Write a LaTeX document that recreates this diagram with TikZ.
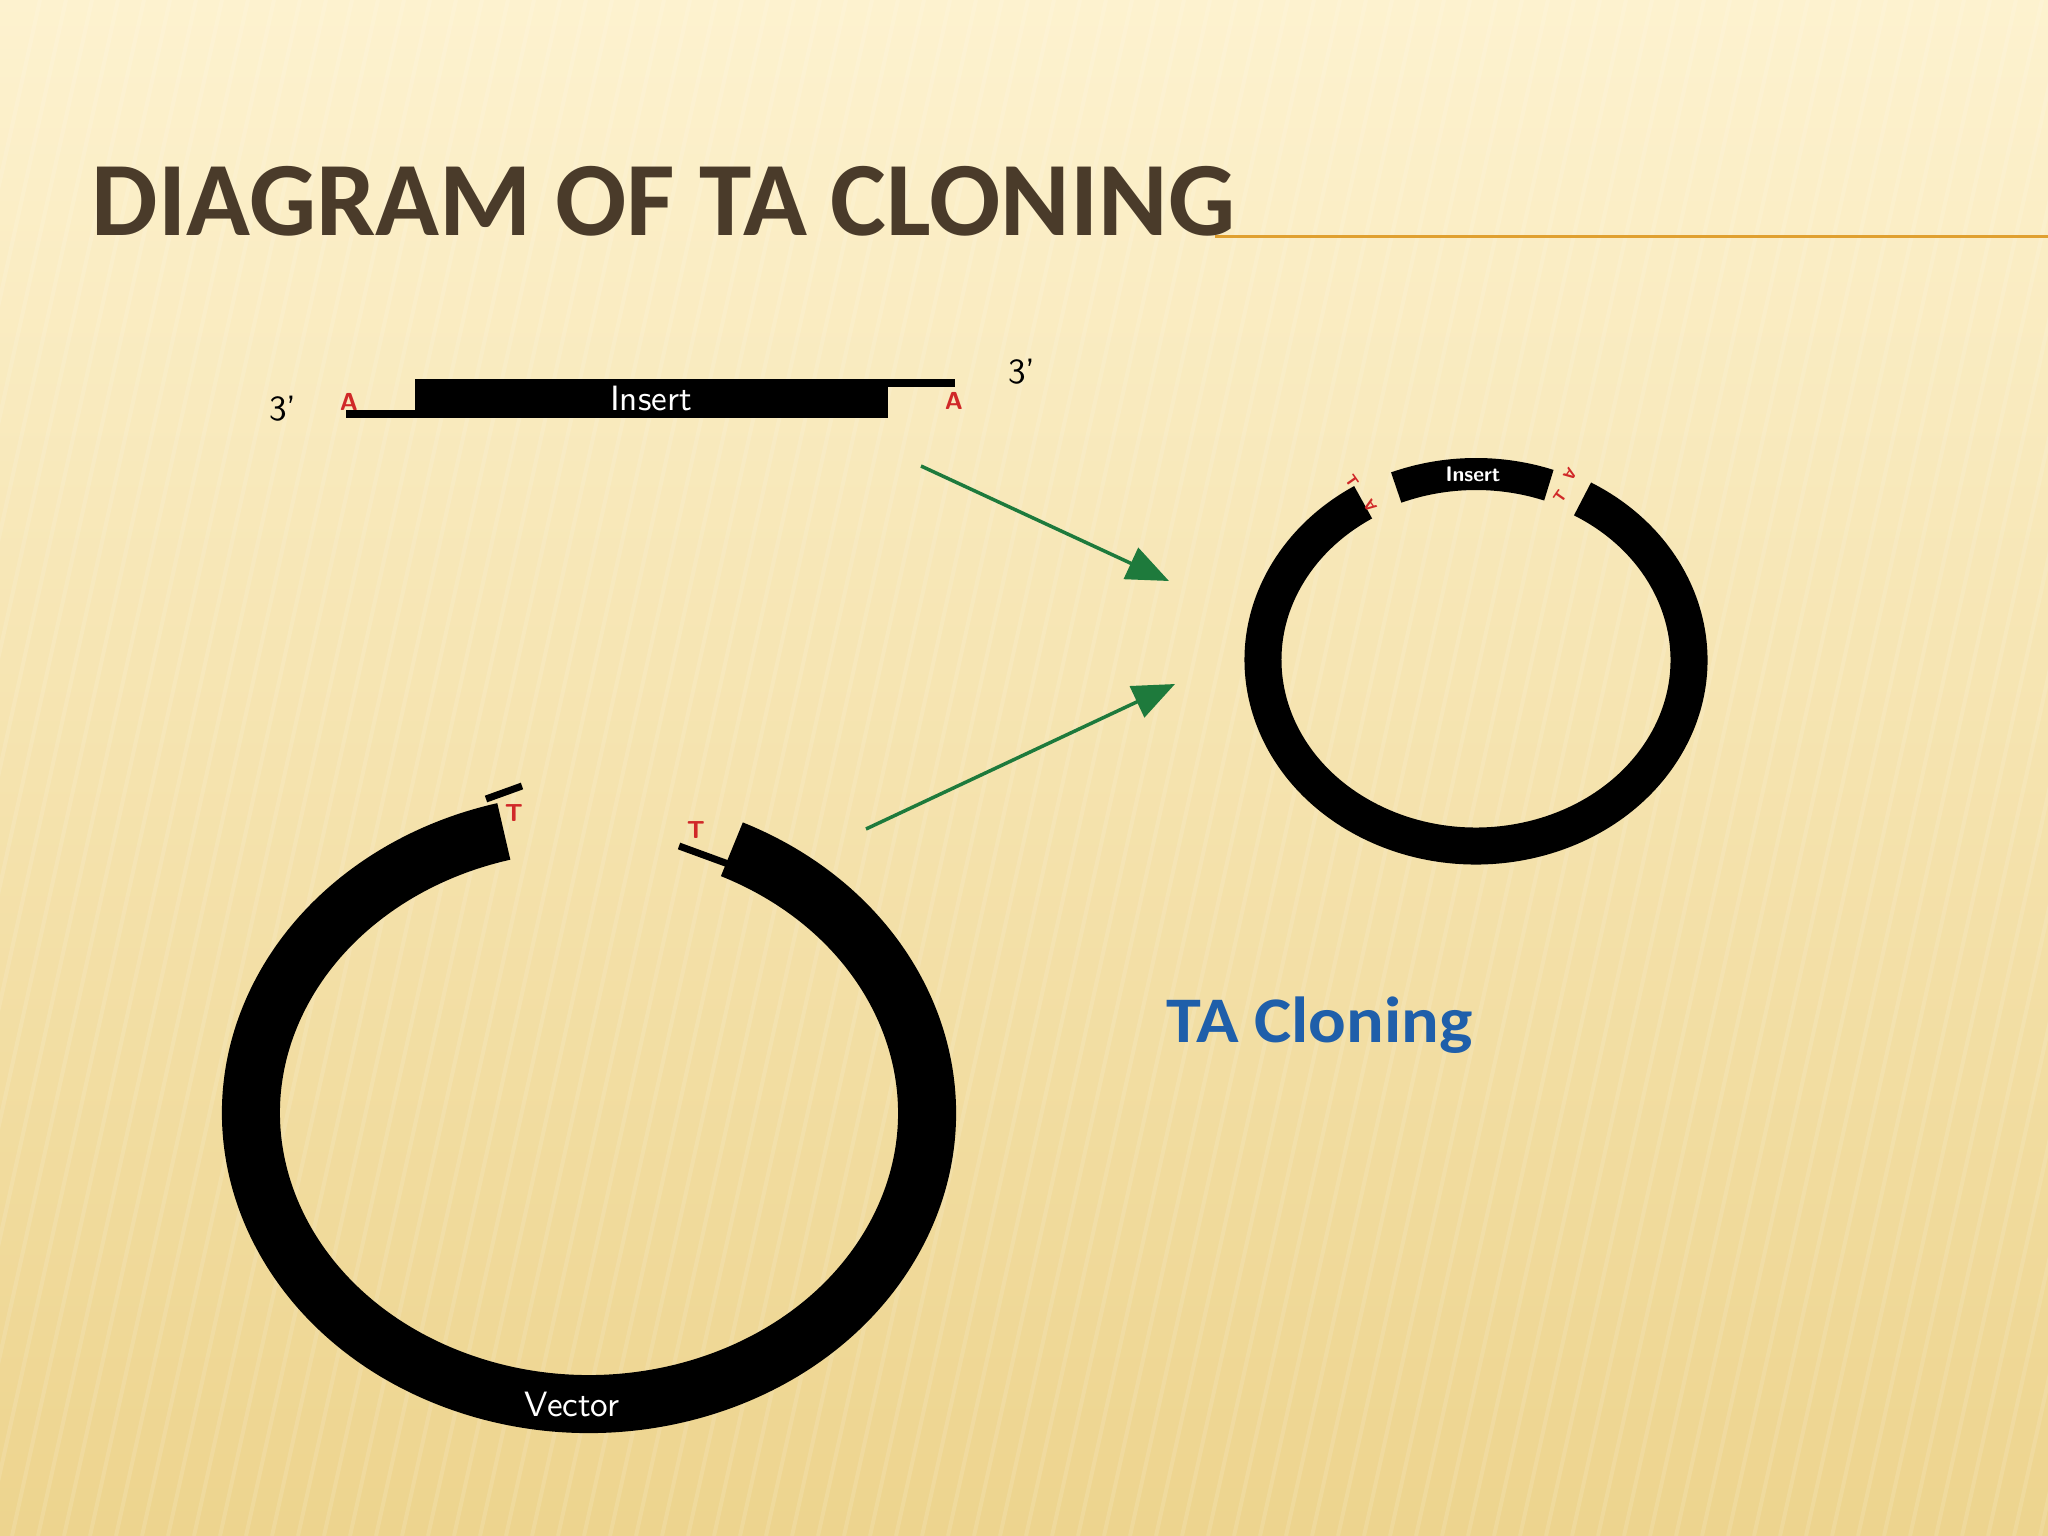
\documentclass[tikz,border=0pt]{standalone}
\usepackage{fontspec}
\setmainfont{Carlito}
\usetikzlibrary{calc,arrows.meta}
\definecolor{bgtop}{HTML}{FDF2CF}
\definecolor{bgbot}{HTML}{EDD48E}
\definecolor{titlec}{HTML}{4A3B2A}
\definecolor{linec}{HTML}{E0A030}
\definecolor{arrowc}{HTML}{1E7A3C}
\definecolor{redc}{HTML}{D02828}
\definecolor{bluec}{HTML}{1F5FAA}
\tikzset{
  garrow/.style={draw=arrowc,line width=0.035cm,-{Triangle[length=0.42cm,width=0.34cm]}},
  redlab/.style={text=redc,font=\fontsize{7}{7}\selectfont\bfseries\sffamily,inner sep=0pt},
  tinyred/.style={text=redc,font=\fontsize{4.5}{4.5}\selectfont\bfseries\sffamily,inner sep=0pt},
  blklab/.style={text=black,font=\fontsize{10}{10}\selectfont\sffamily,inner sep=0pt}
}
\begin{document}
\begin{tikzpicture}[x=0.01cm,y=-0.01cm]
\useasboundingbox (0,0) rectangle (2048,1536);
\shade[top color=bgtop,bottom color=bgbot] (0,0) rectangle (2048,1536);
\foreach \i in {0,...,90}{
  \draw[white,opacity=0.12,line width=0.04cm] (\i*26-300,1536) -- (\i*26+40,0);
}
% title
\draw[linec,line width=0.03cm] (1215,236) -- (2048,236);
\node[anchor=base west,inner sep=0pt,text=titlec,font=\fontsize{30}{30}\selectfont\bfseries] (title) at (91,235) {DIAGRAM OF TA CLONING};
% insert fragment
\fill[black] (415,379) rectangle (888,418);
\fill[black] (346,410) rectangle (416,418);
\fill[black] (888,379) rectangle (955,387);
\node[text=white,font=\fontsize{10}{10}\selectfont\sffamily] (ins) at (651,398) {Insert};
\node[redlab] (a1) at (349,402) {A};
\node[redlab] (a2) at (954,401) {A};
\node[blklab] (p1) at (283,409) {3'};
\node[blklab] (p2) at (1022,372) {3'};
% small circle
\coordinate (sc) at (1476,660);
\draw[line width=0.37cm] ($(sc)+(-60:213 and 186)$) arc[start angle=-60,end angle=238,x radius=213,y radius=186];
\draw[line width=0.32cm] ($(sc)+(-112:213 and 186)$) arc[start angle=-112,end angle=-70,x radius=213,y radius=186];
\node[text=white,font=\fontsize{6}{6}\selectfont\bfseries\sffamily] (sins) at (1473,474) {Insert};
\node[tinyred,rotate=-55] (st1) at (1352,481) {T};
\node[tinyred,rotate=125] (sa1) at (1370,506) {A};
\node[tinyred,rotate=235] (sa2) at (1570,474) {A};
\node[tinyred,rotate=55] (st2) at (1560,497) {T};
% vector
\coordinate (vc) at (589,1113);
\draw[line width=0.58cm] ($(vc)+(-65:338 and 291)$) arc[start angle=-65,end angle=255.4,x radius=338,y radius=291];
\draw[line width=0.07cm] (486,799) -- (522,786);
\draw[line width=0.07cm] (679,846) -- (731,865);
\node[redlab] (t1) at (514,813) {T};
\node[redlab] (t2) at (696,830) {T};
\node[text=white,font=\fontsize{10}{10}\selectfont\sffamily] (vec) at (572,1404) {Vector};
% arrows
\coordinate (ar1s) at (921,466);
\coordinate (ar1e) at (1169,581);
\coordinate (ar2s) at (866,829);
\coordinate (ar2e) at (1175,684);
\draw[garrow] (ar1s) -- (ar1e);
\draw[garrow] (ar2s) -- (ar2e);
\node[anchor=base west,inner sep=0pt,text=bluec,font=\fontsize{18.5}{18.5}\selectfont\bfseries,xscale=1.08] (ta) at (1166,1042) {TA Cloning};
\end{tikzpicture}
\end{document}
